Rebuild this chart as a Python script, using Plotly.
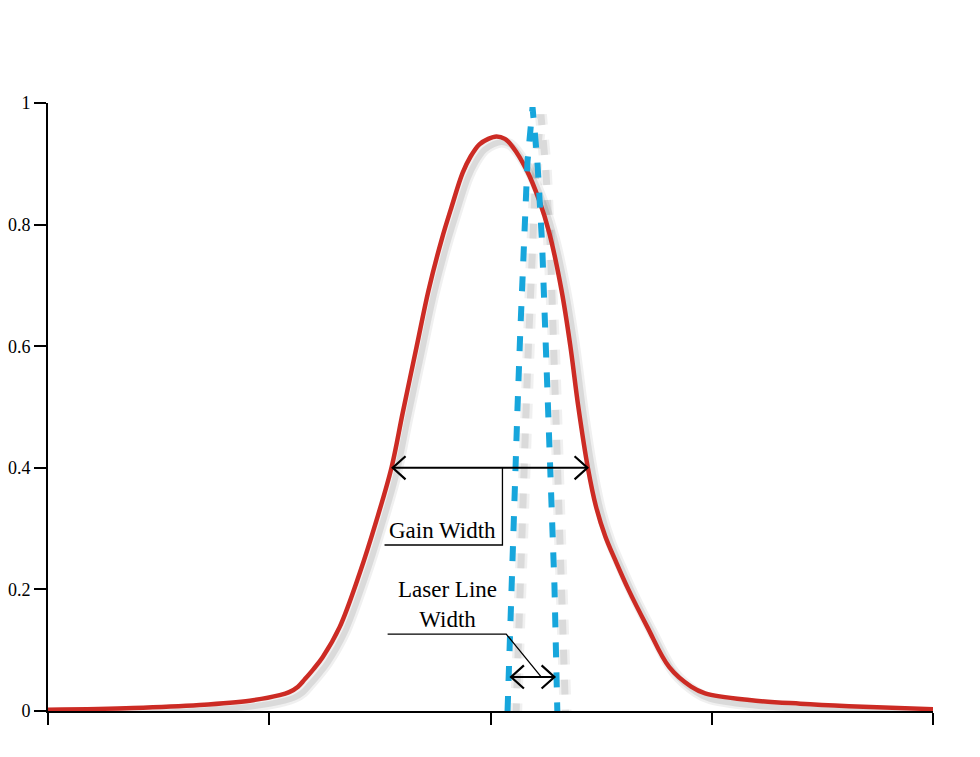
import plotly.graph_objects as go

# gain curve (red)
gain_x = [0.0, 0.384, 0.686, 0.912, 1.047, 1.09, 1.13, 1.16, 1.20, 1.242, 1.318, 1.409, 1.485,
          1.553, 1.603, 1.666, 1.72, 1.779, 1.824, 1.874, 1.91, 1.95, 1.99, 2.027, 2.065,
          2.10, 2.163, 2.22, 2.266, 2.321, 2.361, 2.397, 2.440, 2.477, 2.519, 2.564,
          2.623, 2.709, 2.808, 2.907, 2.97, 3.17, 3.40, 3.62, 4.0]
gain_y = [0.002, 0.005, 0.010, 0.017, 0.026, 0.031, 0.040, 0.052, 0.069, 0.089, 0.138, 0.227, 0.314,
          0.401, 0.49, 0.599, 0.692, 0.775, 0.829, 0.885, 0.912, 0.932, 0.941, 0.945, 0.941,
          0.928, 0.890, 0.840, 0.786, 0.692, 0.600, 0.500, 0.400, 0.336, 0.287, 0.248,
          0.200, 0.138, 0.072, 0.040, 0.029, 0.018, 0.012, 0.008, 0.003]

# laser line (blue dashed)
laser_x = [2.077, 2.093, 2.104, 2.122, 2.134, 2.150, 2.167, 2.190,
           2.212, 2.233, 2.248, 2.259, 2.274, 2.289, 2.302]
laser_y = [0.0, 0.207, 0.327, 0.498, 0.618, 0.771, 0.903, 0.993,
           0.903, 0.771, 0.618, 0.498, 0.327, 0.207, 0.0]

y_ticks = [0, 0.2, 0.4, 0.6, 0.8, 1]
y_ticktext = ['0', '0.2', '0.4', '0.6', '0.8', '1']
x_ticks = [0, 1, 2, 3, 4]

# annotation anchors (data units)
gain_arrow = (1.558, 2.438, 0.4)
gain_leader_x, gain_leader_y, gain_leader_end = 2.054, 0.273, 1.521
laser_arrow = (2.093, 2.289, 0.056)
laser_leader = [(2.229, 0.056), (2.071, 0.1266), (1.535, 0.1266)]

FONT = 'Liberation Serif'
RED = '#cc2b24'
BLUE = '#17a6dc'
HEAD_DX, HEAD_DY = 0.058, 0.019   # chevron half-size in data units

fig = go.Figure()

# soft drop shadows
for w, a in [(11, 0.06), (6, 0.09)]:
    fig.add_trace(go.Scatter(
        x=[v + 0.023 for v in gain_x], y=[v - 0.009 for v in gain_y],
        mode='lines', line=dict(color=f'rgba(0,0,0,{a})', width=w, shape='spline', smoothing=1),
        hoverinfo='skip', showlegend=False))
    fig.add_trace(go.Scatter(
        x=[v + 0.038 for v in laser_x], y=[v - 0.012 for v in laser_y],
        mode='lines', line=dict(color=f'rgba(0,0,0,{a})', width=w + 1, dash='15px,15px'),
        hoverinfo='skip', showlegend=False))

fig.add_trace(go.Scatter(
    x=gain_x, y=gain_y, mode='lines',
    line=dict(color=RED, width=4.5, shape='spline', smoothing=1),
    showlegend=False))

fig.add_trace(go.Scatter(
    x=laser_x, y=laser_y, mode='lines',
    line=dict(color=BLUE, width=6, dash='15px,15px'),
    showlegend=False))

# double arrows with open chevron heads
for x0, x1, yv in [gain_arrow, laser_arrow]:
    fig.add_shape(type='line', xref='x', yref='y', x0=x0, x1=x1, y0=yv, y1=yv,
                  line=dict(color='black', width=2))
    fig.add_shape(type='path', xref='x', yref='y',
                  path=f'M{x0 + HEAD_DX},{yv + HEAD_DY} L{x0},{yv} L{x0 + HEAD_DX},{yv - HEAD_DY}',
                  line=dict(color='black', width=2.2))
    fig.add_shape(type='path', xref='x', yref='y',
                  path=f'M{x1 - HEAD_DX},{yv + HEAD_DY} L{x1},{yv} L{x1 - HEAD_DX},{yv - HEAD_DY}',
                  line=dict(color='black', width=2.2))

# leader lines
fig.add_shape(type='path', xref='x', yref='y',
              path=f'M{gain_leader_x},{gain_arrow[2]} L{gain_leader_x},{gain_leader_y} L{gain_leader_end},{gain_leader_y}',
              line=dict(color='black', width=1.3))
p = laser_leader
fig.add_shape(type='path', xref='x', yref='y',
              path=f'M{p[0][0]},{p[0][1]} L{p[1][0]},{p[1][1]} L{p[2][0]},{p[2][1]}',
              line=dict(color='black', width=1.3))

fig.add_annotation(x=1.783, y=gain_leader_y, xref='x', yref='y', text='Gain Width',
                   showarrow=False, xanchor='center', yanchor='bottom',
                   font=dict(family=FONT, size=23, color='black'))
fig.add_annotation(x=1.804, y=laser_leader[2][1], xref='x', yref='y', text='Laser Line<br>Width',
                   showarrow=False, xanchor='center', yanchor='bottom',
                   font=dict(family=FONT, size=23, color='black'))

# page body adds an 8px offset, so the figure is trimmed by that much
fig.update_layout(
    width=972, height=749,
    margin=dict(l=40, r=47, t=95, b=46, autoexpand=False),
    paper_bgcolor='white', plot_bgcolor='white',
    font=dict(family=FONT, size=18, color='black'),
    xaxis=dict(range=[0, 4], showgrid=False, zeroline=False, showline=True, automargin=False,
               linecolor='black', linewidth=2, ticks='outside', ticklen=12,
               tickwidth=2, tickcolor='black', tickvals=x_ticks, showticklabels=False),
    yaxis=dict(range=[0, 1], showgrid=False, zeroline=False, showline=True, automargin=False,
               linecolor='black', linewidth=2, ticks='outside', ticklen=12,
               tickwidth=2, tickcolor='black', tickvals=y_ticks, ticktext=y_ticktext,
               tickfont=dict(family=FONT, size=18, color='black')),
)

fig.write_html('out.html')
